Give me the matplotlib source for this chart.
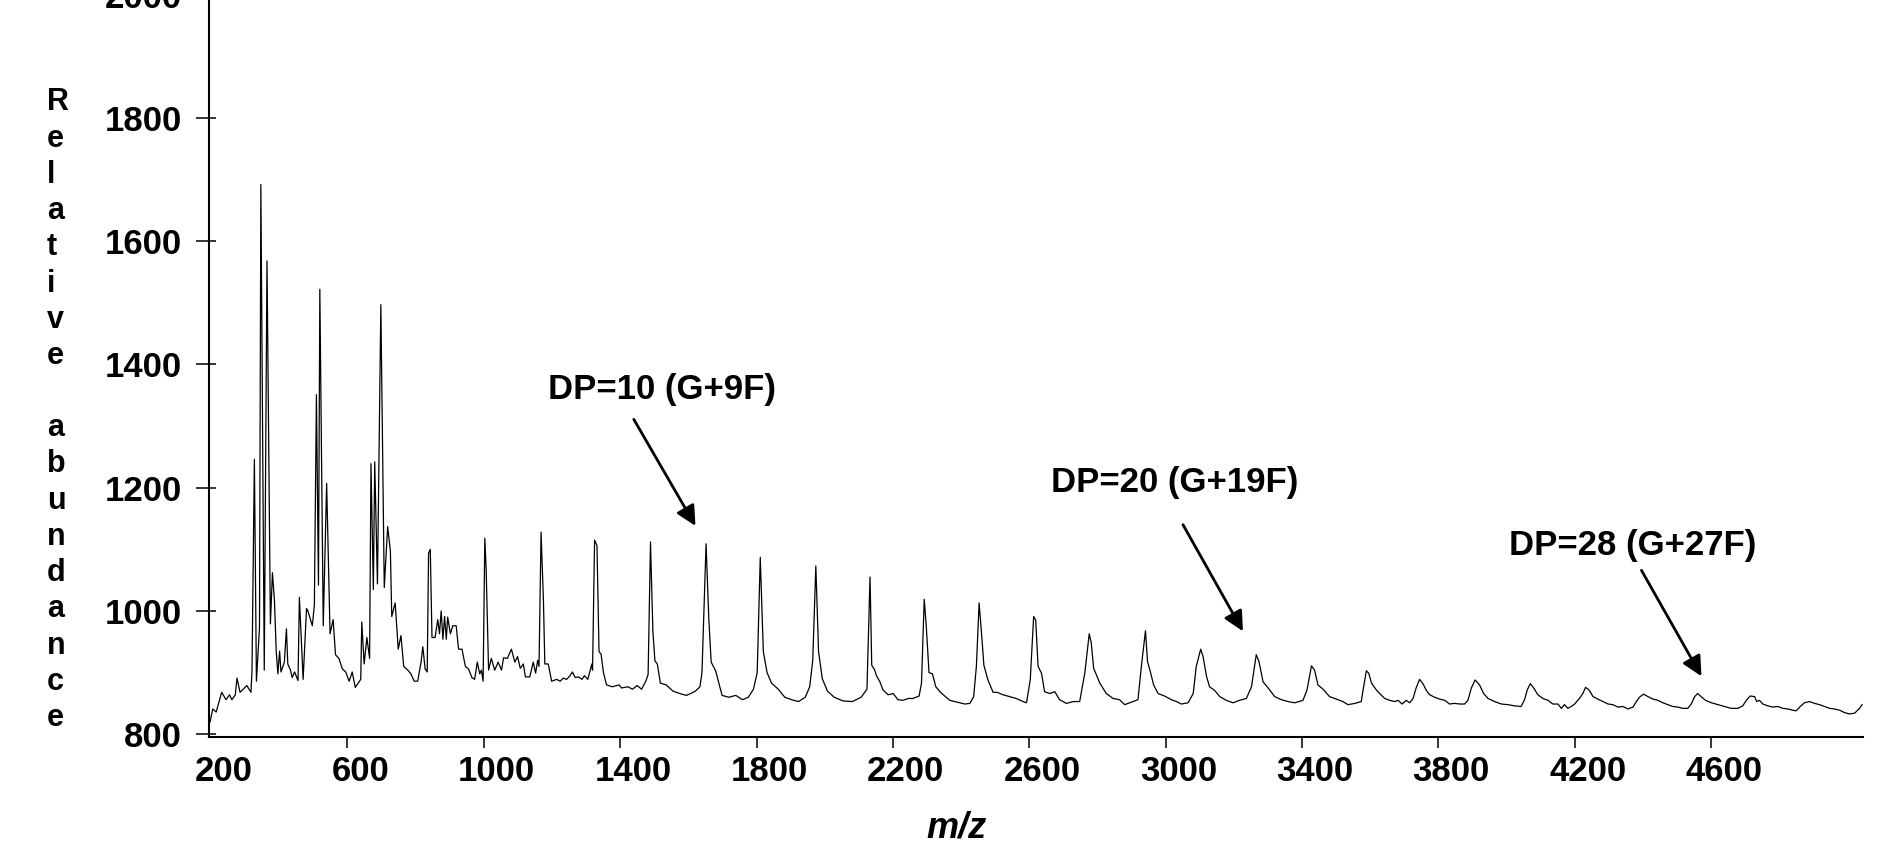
import numpy as np
import matplotlib
matplotlib.use('Agg')
import matplotlib.pyplot as plt
from matplotlib.transforms import ScaledTranslation

plt.rcParams['font.family'] = ['Liberation Sans', 'DejaVu Sans']
plt.rcParams['font.weight'] = 'bold'

# spectrum, split into mass ranges
mz_low = [197, 205, 215, 231, 244, 254, 261, 271, 276, 285, 305, 317, 320, 327, 333, 342, 346,
          356, 364, 374, 380, 386, 391, 396, 401, 405, 415, 421, 425, 433, 438, 445, 455, 459,
          470, 480, 484, 497, 503, 509, 515, 519, 529, 539, 549, 558, 565, 575, 585, 595, 605,
          614, 623, 639, 642, 649, 657, 665, 669, 676, 680, 688, 698, 708, 718, 726, 730, 740,
          749, 757, 765, 777, 786, 796, 806, 816, 821, 828, 834, 838, 843, 848, 857, 865, 870,
          875, 880, 885, 890, 894, 902, 909, 919, 926, 936, 946, 955, 965, 973, 981, 988, 993, 998]
ab_low = [820, 841, 836, 868, 856, 864, 856, 864, 891, 868, 879, 868, 904, 1246, 886, 973, 1692,
          904, 1568, 979, 1062, 1016, 935, 898, 935, 901, 917, 971, 914, 904, 892, 901, 887, 1022,
          889, 1004, 1000, 976, 1010, 1351, 1042, 1522, 976, 1207, 963, 986, 929, 923, 906, 901, 886,
          901, 876, 889, 982, 914, 957, 923, 1239, 1035, 1242, 1044, 1497, 1038, 1137, 1097, 991, 1013,
          938, 960, 910, 904, 898, 886, 886, 917, 942, 906, 901, 1094, 1100, 957, 957, 986, 963,
          1000, 954, 991, 954, 990, 963, 976, 976, 938, 938, 910, 906, 892, 889, 917, 898, 904, 886]

mz_mid = [1003, 1007, 1014, 1022, 1032, 1042, 1052, 1058, 1069, 1081, 1091, 1099, 1107, 1116, 1122,
          1135, 1145, 1152, 1158, 1162, 1168, 1175, 1179, 1189, 1199, 1214, 1224, 1233, 1243, 1253,
          1260, 1268, 1278, 1288, 1295, 1305, 1312, 1317, 1319, 1325, 1332, 1338, 1344, 1351, 1360,
          1377, 1397, 1404, 1423, 1436, 1450, 1463, 1476, 1482, 1489, 1496, 1502, 1509, 1518, 1535,
          1555, 1575, 1594, 1607, 1621, 1634, 1640, 1652, 1660, 1667, 1680, 1699, 1719, 1739, 1759,
          1776, 1791, 1802, 1811, 1820, 1831, 1844, 1864, 1883, 1903, 1923, 1943, 1956, 1965, 1974,
          1982, 1993, 2008, 2028, 2054, 2081, 2107, 2124, 2133, 2138, 2146, 2152]
ab_mid = [1118, 1066, 904, 923, 904, 917, 904, 924, 923, 938, 917, 926, 907, 914, 893,
          893, 917, 899, 920, 910, 1128, 1016, 914, 914, 886, 889, 886, 891, 889, 895,
          901, 892, 893, 889, 895, 889, 904, 914, 904, 1115, 1106, 934, 930, 900, 880,
          877, 880, 875, 877, 873, 879, 873, 887, 897, 1112, 967, 919, 914, 883, 880,
          870, 866, 863, 866, 870, 877, 900, 1109, 988, 917, 903, 863, 860, 863, 856,
          860, 873, 900, 1087, 934, 900, 883, 873, 860, 856, 853, 860, 877, 920, 1073,
          934, 890, 870, 860, 854, 853, 860, 873, 1055, 912, 905, 895]

mz_high = [2162, 2171, 2186, 2201, 2215, 2230, 2245, 2259, 2277, 2284, 2292, 2298, 2306, 2316, 2326,
           2338, 2352, 2367, 2382, 2396, 2411, 2426, 2437, 2445, 2453, 2460, 2467, 2479, 2494, 2506,
           2523, 2543, 2562, 2582, 2592, 2603, 2613, 2619, 2626, 2636, 2645, 2660, 2675, 2689, 2709,
           2729, 2748, 2763, 2776, 2782, 2789, 2807, 2826, 2846, 2865, 2880, 2895, 2919, 2929, 2941,
           2947, 2955, 2965, 2978, 2997, 3017, 3032, 3046, 3066, 3081, 3090, 3103, 3110, 3120, 3129,
           3144, 3159, 3178, 3198, 3217, 3237, 3252, 3266, 3274, 3286, 3301, 3320, 3340, 3359, 3379,
           3403, 3415, 3428, 3437, 3447, 3462, 3481, 3501, 3520, 3535, 3555, 3574, 3581, 3589, 3596,
           3604, 3618]
ab_high = [885, 872, 864, 866, 856, 855, 858, 858, 862, 883, 1019, 975, 900, 898, 877,
           869, 862, 855, 853, 851, 849, 850, 861, 910, 1013, 964, 912, 888, 868, 868,
           864, 861, 858, 853, 851, 888, 991, 985, 910, 899, 869, 866, 869, 856, 850,
           853, 853, 899, 963, 948, 907, 883, 866, 858, 856, 848, 851, 856, 910, 968,
           918, 902, 880, 866, 862, 856, 853, 849, 851, 866, 910, 938, 926, 894, 877,
           871, 861, 855, 851, 855, 858, 877, 929, 918, 885, 875, 861, 856, 853, 851,
           855, 872, 911, 904, 880, 873, 861, 857, 853, 848, 850, 853, 877, 903, 899,
           883, 872]

mz_tail = [3628, 3643, 3657, 3672, 3682, 3694, 3706, 3716, 3726, 3735, 3745, 3755, 3765, 3775, 3789,
           3804, 3819, 3833, 3848, 3863, 3877, 3887, 3897, 3908, 3921, 3933, 3946, 3965, 3985, 4004,
           4024, 4043, 4053, 4061, 4070, 4080, 4092, 4107, 4122, 4136, 4151, 4161, 4170, 4180, 4190,
           4200, 4214, 4224, 4232, 4242, 4254, 4268, 4283, 4298, 4312, 4327, 4342, 4356, 4371, 4381,
           4390, 4402, 4415, 4430, 4444, 4459, 4473, 4488, 4503, 4517, 4532, 4542, 4552, 4561, 4571,
           4584, 4601, 4620, 4640, 4659, 4679, 4693, 4705, 4715, 4728, 4734, 4742, 4752, 4767, 4781,
           4796, 4811, 4825, 4840, 4850, 4862, 4874, 4889, 4904, 4918, 4933, 4948, 4962, 4977, 4992,
           5006, 5021, 5036, 5043]
ab_tail = [866, 858, 855, 853, 855, 849, 855, 851, 858, 875, 889, 882, 871, 864, 860,
           857, 855, 849, 850, 849, 849, 855, 875, 888, 880, 866, 858, 853, 849, 848,
           846, 845, 856, 872, 882, 875, 864, 858, 855, 849, 849, 842, 848, 842, 845,
           849, 858, 866, 876, 872, 861, 857, 853, 849, 848, 844, 845, 841, 844, 853,
           860, 865, 861, 857, 855, 851, 848, 845, 844, 842, 842, 849, 861, 866, 861,
           855, 851, 848, 845, 842, 842, 846, 856, 862, 861, 853, 855, 849, 846, 844,
           845, 842, 841, 839, 838, 845, 851, 853, 850, 848, 845, 842, 841, 839, 835,
           833, 834, 842, 848]

x_tick_marks = [600, 1000, 1400, 1800, 2200, 2600, 3000, 3400, 3800, 4200, 4600]
x_tick_labels = [200, 600, 1000, 1400, 1800, 2200, 2600, 3000, 3400, 3800, 4200, 4600]
y_ticks = [800, 1000, 1200, 1400, 1600, 1800, 2000]

mz = np.array(mz_low + mz_mid + mz_high + mz_tail)
ab = np.array(ab_low + ab_mid + ab_high + ab_tail)

W, H = 1886, 841
fig = plt.figure(figsize=(W / 100, H / 100), dpi=100)
ax = fig.add_axes([208.7 / W, 103.7 / H, (1862.7 - 208.7) / W, 742.6 / H])

ax.plot(mz, ab, color='black', lw=0.9)
ax.set_xlim(193, 5045)
ax.set_ylim(795, 2000)

for s in ['top', 'right']:
    ax.spines[s].set_visible(False)
for s in ['left', 'bottom']:
    ax.spines[s].set_linewidth(1.5)

# x: marks without labels, labels on zero-length minor ticks shifted a bit right
ax.set_xticks(x_tick_marks)
ax.set_xticklabels([])
ax.set_xticks(x_tick_labels, minor=True)
ax.set_xticklabels([str(v) for v in x_tick_labels], minor=True)
ax.xaxis.remove_overlapping_locs = False
ax.tick_params(axis='x', which='major', direction='out', length=8, width=1.1)
ax.tick_params(axis='x', which='minor', length=0, pad=12.5, labelsize=25)
shift = ScaledTranslation(0.13, 0, fig.dpi_scale_trans)
for lab in ax.xaxis.get_minorticklabels():
    lab.set_transform(lab.get_transform() + shift)

# y: ticks crossing the spine
ax.set_yticks(y_ticks)
ax.set_yticklabels([str(v) for v in y_ticks])
ax.set_yticks(y_ticks, minor=True)
ax.yaxis.remove_overlapping_locs = False
ax.tick_params(axis='y', which='major', direction='out', length=9.4, width=1.1, pad=10, labelsize=25)
ax.tick_params(axis='y', which='minor', direction='in', length=5, width=1.1, labelleft=False)

# stacked y label
ylab = 'Relative abundance'
for i, ch in enumerate(ylab):
    if ch == ' ':
        continue
    fig.text(47 / W, 1 - (110.5 + 36.2 * i) / H, ch, ha='left', va='baseline',
             fontsize=22, fontweight='bold')

fig.text(956 / W, 1 - 838 / H, 'm/z', ha='center', va='baseline',
         fontsize=26, fontweight='bold', fontstyle='italic')

# annotations
notes = [('DP=10 (G+9F)', (1522, 1359), (1440, 1311), (1621, 1138)),
         ('DP=20 (G+19F)', (3027, 1208), (3051, 1140), (3227, 967)),
         ('DP=28 (G+27F)', (4371, 1107), (4396, 1066), (4572, 894))]
for txt, pos, start, tip in notes:
    ax.text(pos[0], pos[1], txt, ha='center', va='center', fontsize=25, fontweight='bold')
    ax.annotate('', xy=tip, xytext=start,
                arrowprops=dict(arrowstyle='-|>', color='black', lw=2.0,
                                mutation_scale=30, shrinkA=0, shrinkB=0))

fig.savefig('out.png', dpi=100)
